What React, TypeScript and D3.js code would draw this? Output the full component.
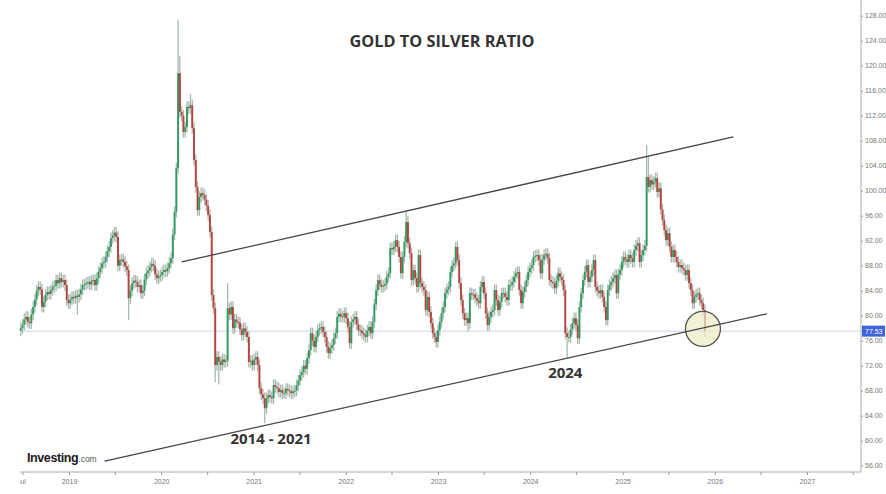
import { useEffect, useRef } from "react";
import * as d3 from "d3";

// weekly candles, first one starts on this Sunday
const firstWeek = "2018-06-24";
const firstOpen = 77.6;

const closes2018 = [78.0, 78.6, 79.4, 79.8, 79.0, 78.8, 80.2, 81.4, 82.6, 84.0, 84.6, 84.2, 81.4, 82.2,
  83.3, 83.8, 83.5, 84.1, 84.6, 84.8, 85.7, 85.2, 86.0, 85.4, 85.7, 84.9, 82.5, 82.0];
const closes2019 = [82.6, 83.0, 82.8, 83.2, 83.0, 83.4, 84.2, 84.9, 85.0, 85.2, 85.4, 85.0, 85.6,
  85.7, 84.9, 86.0, 87.0, 87.6, 88.4, 88.6, 89.4, 90.3, 91.0, 92.4, 92.8, 93.3, 92.6, 88.0, 88.9,
  89.0, 88.6, 87.9, 87.3, 82.8, 84.0, 85.2, 85.6, 85.4, 84.6, 84.9, 83.6, 84.0, 85.8, 86.8, 87.2,
  87.8, 88.3, 88.0, 86.6, 86.0, 86.3, 86.5];
const closes2020 = [87.0, 87.3, 87.1, 87.6, 88.4, 89.2, 93.0, 96.6, 103.6, 118.8, 112.6, 112.0,
  109.4, 110.2, 113.4, 113.2, 113.7, 110.0, 104.9, 100.6, 96.9, 99.0, 99.6, 99.3, 98.6, 97.6, 96.1,
  93.4, 83.3, 81.2, 72.1, 73.4, 72.6, 72.1, 73.0, 72.6, 72.8, 81.2, 80.2, 81.4, 78.0, 79.4, 79.0,
  78.9, 77.8, 76.9, 78.0, 77.4, 76.6, 72.6, 72.8, 72.1];
const closes2021 = [73.0, 73.4, 72.1, 68.4, 67.4, 66.8, 65.2, 66.8, 67.3, 67.0, 66.8, 68.9, 68.6,
  68.4, 67.8, 68.1, 67.6, 67.6, 68.3, 68.1, 67.9, 67.6, 67.9, 68.0, 68.9, 69.6, 70.5, 71.0, 72.0,
  71.5, 73.2, 74.5, 77.2, 76.0, 75.0, 76.6, 77.7, 78.0, 78.2, 77.4, 76.6, 75.0, 74.0, 74.8, 75.3,
  76.4, 77.2, 79.8, 80.3, 79.9, 79.8, 80.4];
const closes2022 = [79.6, 78.2, 75.6, 79.0, 79.4, 79.8, 78.6, 77.7, 77.6, 77.2, 76.9, 76.6, 77.6,
  78.2, 77.2, 79.0, 81.8, 84.1, 85.7, 85.0, 84.6, 84.8, 85.1, 86.2, 86.8, 90.8, 90.6, 91.0, 92.1,
  91.0, 89.4, 86.8, 89.4, 91.8, 95.0, 91.6, 90.0, 85.7, 87.3, 86.0, 84.6, 89.7, 85.2, 84.6, 84.1,
  80.9, 83.0, 80.6, 78.8, 77.2, 76.6, 75.8];
const closes2023 = [77.7, 79.0, 80.4, 81.4, 83.6, 84.2, 84.6, 87.0, 88.0, 88.4, 91.0, 88.9, 85.2,
  82.5, 80.4, 79.3, 79.6, 78.8, 83.6, 83.4, 83.4, 82.8, 82.4, 82.0, 84.6, 85.4, 83.6, 80.4, 78.5,
  79.8, 80.6, 80.9, 84.1, 82.5, 80.9, 82.2, 83.6, 83.6, 83.0, 82.5, 84.9, 84.9, 85.4, 86.2, 86.8,
  87.0, 84.1, 82.0, 83.8, 84.6, 85.7, 87.0, 87.6];
const closes2024 = [88.1, 89.4, 89.6, 89.7, 88.9, 86.8, 89.0, 89.7, 89.9, 89.2, 85.7, 85.4, 85.2,
  84.4, 85.6, 86.8, 86.2, 85.7, 84.1, 77.2, 76.6, 76.6, 77.8, 78.8, 79.6, 78.5, 76.4, 81.4, 83.6,
  85.7, 87.0, 88.1, 85.4, 86.2, 87.3, 88.9, 84.6, 84.0, 83.6, 84.1, 83.0, 81.4, 79.3, 84.1, 84.9,
  85.4, 86.0, 86.5, 83.6, 86.6, 87.3, 88.6];
const closes2025 = [89.4, 89.0, 88.6, 89.7, 89.2, 88.6, 90.5, 91.2, 91.6, 88.6, 89.7, 90.5, 91.2,
  102.2, 100.6, 101.7, 101.0, 101.4, 102.0, 99.8, 100.4, 97.0, 95.3, 93.7, 92.1, 93.2, 91.0, 89.4,
  90.5, 89.4, 88.6, 87.8, 88.1, 87.6, 87.3, 86.5, 87.3, 85.2, 84.1, 82.0, 83.0, 83.4, 83.6, 82.5,
  82.0, 80.9, 77.53];

// long wicks that stand out: [week index, value]
const wickHighs: [number, number][] = [[89, 127.3], [90, 121.6], [96, 115.5], [117, 85.2],
  [218, 96.6], [246, 91.8], [354, 107.3], [355, 105.5]];
const wickLows: [number, number][] = [[32, 80.1], [61, 79.3], [110, 69.4], [112, 69.0],
  [138, 62.8], [253, 77.5], [309, 73.2], [331, 78.5]];
const wickPad = 0.9;

const yTicks = [56, 60, 64, 68, 72, 76, 80, 84, 88, 92, 96, 100, 104, 108, 112, 116, 120, 124, 128];
const xTicks = ["2018-07-01", "2019-01-01", "2019-07-01", "2020-01-01", "2020-07-01", "2021-01-01",
  "2021-07-01", "2022-01-01", "2022-07-01", "2023-01-01", "2023-07-01", "2024-01-01", "2024-07-01",
  "2025-01-01", "2025-07-01", "2026-01-01", "2026-07-01", "2027-01-01", "2027-07-01"];
const lastPrice = 77.53;

const upperTrend = [{ date: "2020-03-22", value: 88.6 }, { date: "2026-03-15", value: 108.6 }];
const lowerTrend = [{ date: "2019-05-22", value: 56.75 }, { date: "2026-07-26", value: 80.3 }];
const highlight = { date: "2025-11-15", value: 77.9 };
const notes = [
  { text: "2014 - 2021", date: "2021-03-11", value: 59.5 },
  { text: "2024", date: "2024-05-19", value: 70.0 },
];

export default function App() {
  const svgRef = useRef<SVGSVGElement | null>(null);

  useEffect(() => {
    if (!svgRef.current) return;
    const width = 886;
    const height = 494;
    const axisX = 861;
    const axisY = 472;
    const parse = d3.timeParse("%Y-%m-%d");

    const svg = d3.select(svgRef.current);
    svg.selectAll("*").remove();

    const x = d3.scaleTime()
      .domain([parse("2019-01-01"), parse("2027-01-01")])
      .range([69, 807]);
    const y = d3.scaleLinear().domain([56, 128]).range([465.7, 15.7]);

    const closes = [...closes2018, ...closes2019, ...closes2020, ...closes2021,
      ...closes2022, ...closes2023, ...closes2024, ...closes2025];
    const start = parse(firstWeek);
    const highMap = new Map(wickHighs);
    const lowMap = new Map(wickLows);
    const candles = closes.map((close, i) => {
      const open = i === 0 ? firstOpen : closes[i - 1];
      return {
        date: d3.timeDay.offset(start, 7 * i),
        open,
        close,
        high: highMap.get(i) ?? Math.max(open, close) + wickPad,
        low: lowMap.get(i) ?? Math.min(open, close) - wickPad,
      };
    });

    svg.append("rect").attr("width", width).attr("height", height).attr("fill", "#fff");

    // last price line
    svg.append("line")
      .attr("x1", 20).attr("x2", axisX)
      .attr("y1", y(lastPrice)).attr("y2", y(lastPrice))
      .attr("stroke", "#cfd2f4").attr("stroke-width", 1);

    // wicks
    svg.append("g").selectAll("line").data(candles).join("line")
      .attr("x1", (d) => x(d.date)).attr("x2", (d) => x(d.date))
      .attr("y1", (d) => y(d.high)).attr("y2", (d) => y(d.low))
      .attr("stroke", "#a9b9af").attr("stroke-width", 1.3);

    // bodies
    const bw = 1.9;
    svg.append("g").selectAll("rect").data(candles).join("rect")
      .attr("x", (d) => x(d.date) - bw / 2)
      .attr("width", bw)
      .attr("y", (d) => y(Math.max(d.open, d.close)))
      .attr("height", (d) => Math.max(1, Math.abs(y(d.open) - y(d.close))))
      .attr("fill", (d) => (d.close >= d.open ? "#2f9a5f" : "#b8413d"));

    // highlight circle
    svg.append("circle")
      .attr("cx", x(parse(highlight.date))).attr("cy", y(highlight.value)).attr("r", 17.5)
      .attr("fill", "#ecebc6").attr("fill-opacity", 0.72)
      .attr("stroke", "#555").attr("stroke-width", 1.3);

    // channel lines
    const trend = d3.line<{ date: string; value: number }>()
      .x((d) => x(parse(d.date)))
      .y((d) => y(d.value));
    [upperTrend, lowerTrend].forEach((t) => {
      svg.append("path").attr("d", trend(t)).attr("fill", "none")
        .attr("stroke", "#444").attr("stroke-width", 1.3);
    });

    // right axis
    const yAxis = d3.axisRight(y).tickValues(yTicks).tickSize(2).tickSizeOuter(0)
      .tickFormat((d) => (+d).toFixed(2));
    const gy = svg.append("g").attr("transform", `translate(${axisX},0)`).call(yAxis);
    gy.select(".domain").remove();
    gy.selectAll(".tick line").attr("stroke", "#999");
    gy.selectAll(".tick text").attr("x", 4).attr("fill", "#777")
      .attr("font-size", 7).attr("font-family", "Liberation Sans, Arial, sans-serif");
    svg.append("line").attr("x1", axisX).attr("x2", axisX).attr("y1", 0).attr("y2", axisY)
      .attr("stroke", "#aaa");

    // price label
    svg.append("rect").attr("x", axisX + 1).attr("y", y(lastPrice) - 5.5)
      .attr("width", 23).attr("height", 11).attr("fill", "#3d63dd");
    svg.append("text").attr("x", axisX + 4).attr("y", y(lastPrice) + 2.5)
      .attr("fill", "#fff").attr("font-size", 7)
      .attr("font-family", "Liberation Sans, Arial, sans-serif")
      .text(lastPrice.toFixed(2));

    // bottom axis
    const xTickDates = xTicks.map((s) => parse(s) as Date);
    const xAxis = d3.axisBottom(x).tickValues(xTickDates).tickSize(3).tickSizeOuter(0)
      .tickFormat((d, i) => {
        const dt = d as Date;
        if (i === 0) return "ul";
        return dt.getMonth() === 0 ? String(dt.getFullYear()) : "";
      });
    const gx = svg.append("g").attr("transform", `translate(0,${axisY})`).call(xAxis);
    gx.select(".domain").remove();
    gx.selectAll(".tick line").attr("stroke", "#999");
    gx.selectAll(".tick text").attr("fill", "#777").attr("font-size", 7).attr("dy", "0.9em")
      .attr("font-family", "Liberation Sans, Arial, sans-serif");
    svg.append("line").attr("x1", 20).attr("x2", axisX).attr("y1", axisY).attr("y2", axisY)
      .attr("stroke", "#aaa");

    // title
    svg.append("text").attr("x", 442).attr("y", 47).attr("text-anchor", "middle")
      .attr("font-family", "Open Sans, sans-serif").attr("font-weight", 700)
      .attr("font-size", 16.3).attr("fill", "#333").text("GOLD TO SILVER RATIO");

    // period notes
    svg.append("g").selectAll("text").data(notes).join("text")
      .attr("x", (d) => x(parse(d.date))).attr("y", (d) => y(d.value))
      .attr("text-anchor", "middle")
      .attr("font-family", "Open Sans, sans-serif").attr("font-weight", 700)
      .attr("font-size", 15).attr("fill", "#333").text((d) => d.text);

    // logo
    const logo = svg.append("text").attr("x", 27).attr("y", 462)
      .attr("font-family", "Liberation Sans, Arial, sans-serif");
    logo.append("tspan").attr("font-weight", 700).attr("font-size", 12.5)
      .attr("letter-spacing", -0.4).attr("fill", "#1a1a1a").text("Investing");
    logo.append("tspan").attr("font-size", 8.5).attr("fill", "#555").text(".com");
  }, []);

  return (
    <svg
      ref={svgRef}
      width={886}
      height={494}
      style={{ position: "absolute", left: 0, top: 0, display: "block" }}
    />
  );
}
